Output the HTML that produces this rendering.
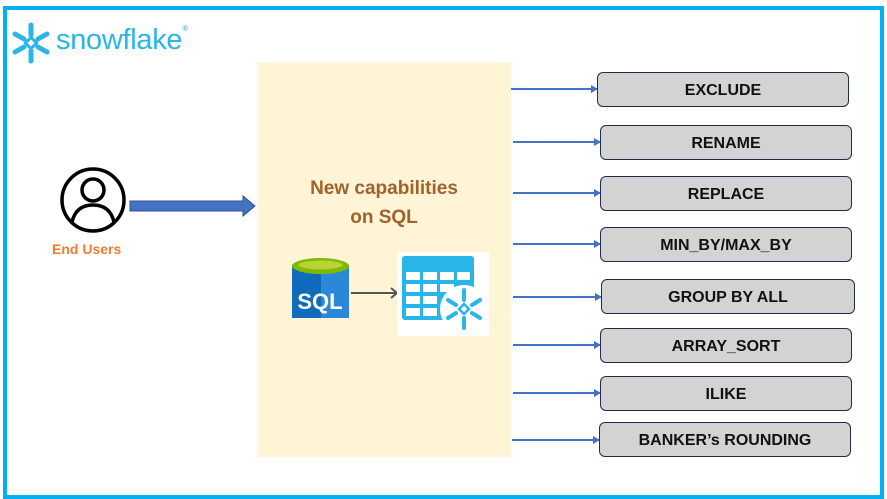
<!DOCTYPE html>
<html><head><meta charset="utf-8"><style>
body{margin:0;width:887px;height:499px;background:#fff;position:relative;overflow:hidden;font-family:"Liberation Sans",Calibri,sans-serif}
.frame{position:absolute;left:3px;top:6px;width:873px;height:485px;border:4px solid #00b0f0}
.panel{position:absolute;left:257px;top:62px;width:254px;height:395px;background:#fff4d6}
.box{position:absolute;width:252px;height:35px;background:#d3d3d3;border:1.5px solid #1f2d4a;border-radius:6px;box-sizing:border-box;text-align:center;line-height:35px;font-weight:bold;font-size:16px;color:#111}
.ab{position:absolute;height:2px;background:#4472c4}
.ab:after{content:"";position:absolute;right:-1px;top:-3px;border-left:7px solid #4472c4;border-top:4px solid transparent;border-bottom:4px solid transparent}
</style></head><body>
<div class="frame"></div>
<div class="panel"></div>
<svg style="position:absolute;left:10px;top:22px" width="42" height="42" viewBox="0 0 42 42">
<g stroke="#29b5e8" stroke-width="5" stroke-linecap="round" fill="none">
<line x1="21" y1="3" x2="21" y2="13"/><line x1="21" y1="29" x2="21" y2="39"/>
<line x1="5" y1="12" x2="14" y2="17"/><line x1="28" y1="25" x2="37" y2="30"/>
<line x1="5" y1="30" x2="14" y2="25"/><line x1="28" y1="17" x2="37" y2="12"/>
</g><rect x="17" y="17" width="8" height="8" transform="rotate(45 21 21)" fill="none" stroke="#29b5e8" stroke-width="3"/></svg>
<div style="position:absolute;left:56px;top:24px;font-size:29px;color:#29b5e8;letter-spacing:-0.3px">snowflake<span style="font-size:8px;vertical-align:top">®</span></div>
<svg style="position:absolute;left:58px;top:165px" width="70" height="70" viewBox="0 0 70 70"><circle cx="35" cy="35" r="31" fill="none" stroke="#000" stroke-width="3.5"/><circle cx="35" cy="25" r="11" fill="none" stroke="#000" stroke-width="3.5"/><path d="M14 57 Q18 40 35 40 Q52 40 56 57" fill="none" stroke="#000" stroke-width="3.5"/></svg>
<div style="position:absolute;left:52px;top:241px;font-size:14px;font-weight:bold;color:#ed7d31">End Users</div>
<svg style="position:absolute;left:128px;top:194px" width="130" height="24"><polygon points="2,7 115,7 115,2 127,12 115,22 115,17 2,17" fill="#4472c4" stroke="#2f528f" stroke-width="1"/></svg>
<div style="position:absolute;left:257px;top:174px;width:254px;text-align:center;font-size:19px;font-weight:bold;color:#a0622a;line-height:29px">New capabilities<br>on SQL</div>
<svg style="position:absolute;left:292px;top:258px" width="60" height="60"><rect x="0" y="7" width="57" height="53" fill="#0f6cbd"/><rect x="29" y="7" width="28" height="53" fill="#2b88d8"/><ellipse cx="28.5" cy="8" rx="28.5" ry="8" fill="#7fba00"/><ellipse cx="28.5" cy="7" rx="22" ry="4.5" fill="#b8d432"/><text x="28" y="51" text-anchor="middle" font-family="Liberation Sans" font-weight="bold" font-size="22" fill="#fff">SQL</text></svg>
<svg style="position:absolute;left:350px;top:287px" width="50" height="12"><line x1="1" y1="6" x2="46" y2="6" stroke="#555" stroke-width="2"/><path d="M41 1 L47 6 L41 11" fill="none" stroke="#555" stroke-width="2"/></svg>
<div style="position:absolute;left:397px;top:252px;width:92px;height:84px;background:#fff"></div>
<svg style="position:absolute;left:402px;top:256px" width="90" height="76"><rect x="0" y="0" width="72" height="64" rx="3" fill="#29b5e8"/><g fill="#fff"><rect x="4" y="16" width="14" height="8"/><rect x="21" y="16" width="14" height="8"/><rect x="38" y="16" width="14" height="8"/><rect x="55" y="16" width="13" height="8"/><rect x="4" y="28" width="14" height="8"/><rect x="21" y="28" width="14" height="8"/><rect x="38" y="28" width="14" height="8"/><rect x="4" y="40" width="14" height="8"/><rect x="21" y="40" width="14" height="8"/><rect x="4" y="52" width="14" height="8"/><rect x="21" y="52" width="14" height="8"/><circle cx="62" cy="53" r="24"/></g><g stroke="#29b5e8" stroke-width="4" stroke-linecap="round"><line x1="62" y1="34" x2="62" y2="44"/><line x1="62" y1="62" x2="62" y2="72"/><line x1="46" y1="44" x2="54" y2="49"/><line x1="70" y1="57" x2="78" y2="62"/><line x1="46" y1="62" x2="54" y2="57"/><line x1="70" y1="49" x2="78" y2="44"/></g><rect x="58.5" y="49.5" width="7" height="7" transform="rotate(45 62 53)" fill="none" stroke="#29b5e8" stroke-width="2.5"/></svg>

<div class="ab" style="left:511px;top:88px;width:86px"></div><div class="box" style="left:597px;top:72px">EXCLUDE</div>
<div class="ab" style="left:513px;top:141px;width:87px"></div><div class="box" style="left:600px;top:125px">RENAME</div>
<div class="ab" style="left:513px;top:192px;width:87px"></div><div class="box" style="left:600px;top:176px">REPLACE</div>
<div class="ab" style="left:513px;top:243px;width:87px"></div><div class="box" style="left:600px;top:227px">MIN_BY/MAX_BY</div>
<div class="ab" style="left:513px;top:296px;width:88px"></div><div class="box" style="left:601px;top:279px;width:254px">GROUP BY ALL</div>
<div class="ab" style="left:513px;top:344px;width:87px"></div><div class="box" style="left:600px;top:328px">ARRAY_SORT</div>
<div class="ab" style="left:513px;top:392px;width:87px"></div><div class="box" style="left:600px;top:376px">ILIKE</div>
<div class="ab" style="left:512px;top:439px;width:87px"></div><div class="box" style="left:599px;top:422px">BANKER’s ROUNDING</div>
</body></html>
